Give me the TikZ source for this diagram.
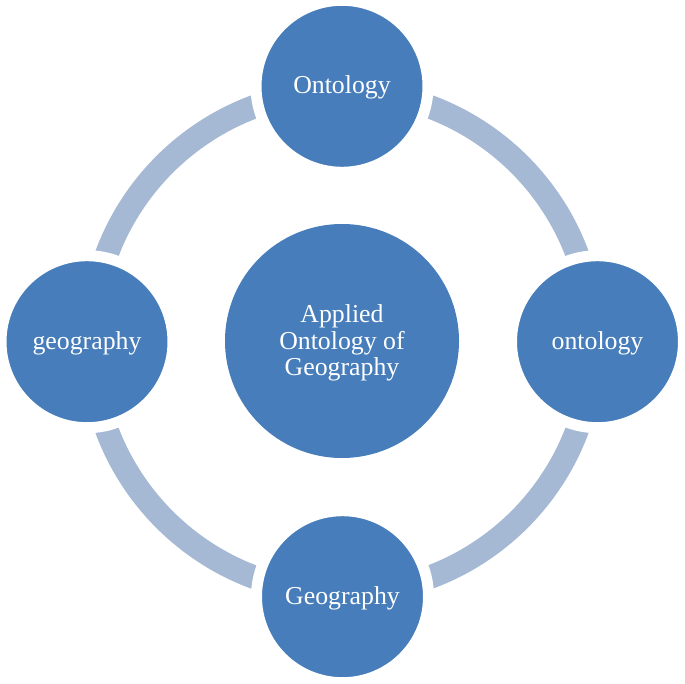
\documentclass[tikz,border=0pt]{standalone}
\usepackage{fontspec}
\setmainfont{Liberation Serif}
\definecolor{nodeblue}{RGB}{70,125,186}
\definecolor{ringblue}{RGB}{165,185,213}
\begin{document}
\begin{tikzpicture}[x=1pt,y=-1pt,
  sat/.style={circle,fill=nodeblue,draw=white,line width=11pt,minimum size=172pt,inner sep=0pt},
  hub/.style={circle,fill=nodeblue,inner sep=0pt,minimum size=234pt},
  lbl/.style={text=white,font=\fontsize{25.8pt}{27pt}\selectfont,inner sep=0pt,anchor=base},
  ring/.style={draw=ringblue,line width=23.5pt}]
\useasboundingbox (0,0) rectangle (685,684);
\fill[white] (0,0) rectangle (685,684);
\coordinate (c) at (342,342);
\draw[ring] (c) circle[radius=251];
\node[hub] (hubc) at (342,341) {};
\node[sat] (top) at (342,86.3) {};
\node[sat] (right) at (597.5,341.7) {};
\node[sat] (left) at (87,341.7) {};
\node[sat] (bottom) at (342.5,596.7) {};
\node[lbl] (ttop) at (342,93.3) {Ontology};
\node[lbl] (tright) at (597.5,349.3) {ontology};
\node[lbl] (tleft) at (87,349.8) {geography};
\node[lbl] (tbottom) at (342.5,604) {Geography};
\node[lbl] (t1) at (342,322.7) {Applied};
\node[lbl] (t2) at (342,349.2) {Ontology of};
\node[lbl] (t3) at (342,375.7) {Geography};
\end{tikzpicture}
\end{document}
